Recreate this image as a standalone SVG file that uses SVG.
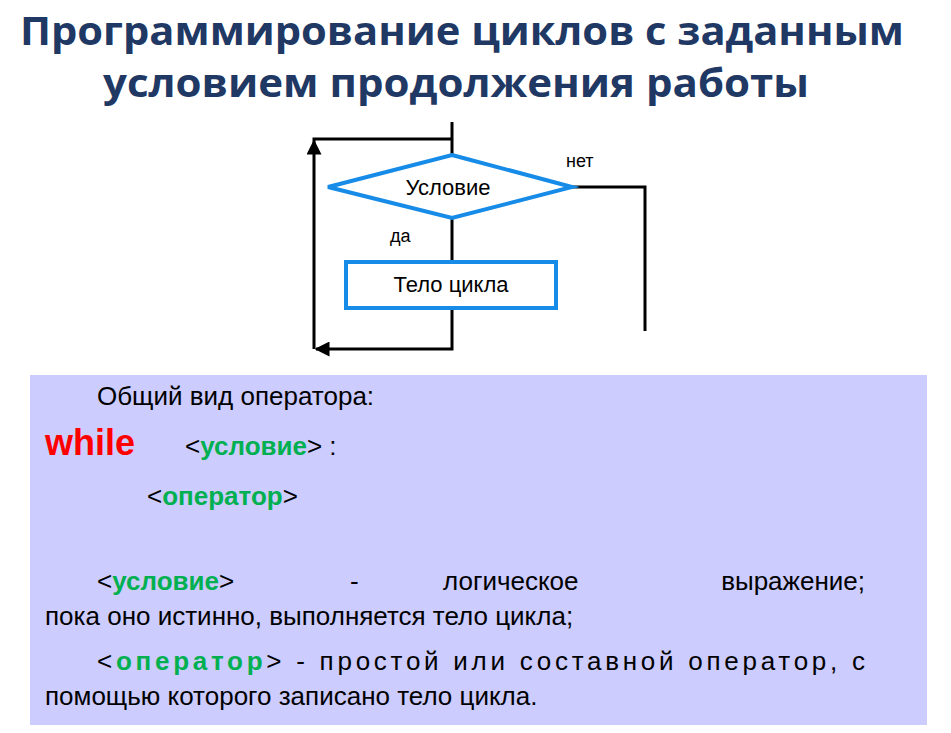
<svg xmlns="http://www.w3.org/2000/svg" width="951" height="733" viewBox="0 0 951 733">
<style>
.t{font-family:"Open Sans","Liberation Sans",sans-serif;font-weight:bold;font-size:40px;fill:#1F3864}
.s{font-family:"Liberation Sans",Arial,sans-serif;font-size:26px;fill:#000}
.n{font-family:"Liberation Sans",Arial,sans-serif;font-size:22px;fill:#000}
.l{font-family:"Liberation Sans",Arial,sans-serif;font-size:18px;fill:#000}
.g{fill:#00B050;font-weight:bold}
.c{fill:none;stroke:#000;stroke-width:3}
.b{fill:#fff;stroke:#168CE8;stroke-width:4}
</style>
<defs><marker id="a" viewBox="0 0 10 10" refX="9" refY="5" markerWidth="5" markerHeight="5" orient="auto"><path d="M0,0L10,5L0,10z" fill="#000"/></marker></defs>
<rect width="951" height="733" fill="#fff"/>
<text class="t" x="462" y="45" text-anchor="middle" textLength="884" lengthAdjust="spacingAndGlyphs">Программирование циклов с заданным</text>
<text class="t" x="456" y="97" text-anchor="middle" textLength="706" lengthAdjust="spacingAndGlyphs">условием продолжения работы</text>
<g id="connectors">
<path class="c" d="M452,122V155"/>
<path class="c" d="M452,218V262"/>
<path class="c" d="M452,309V349H316" marker-end="url(#a)"/>
<path class="c" d="M452,139H314V349M314,349V141" marker-end="url(#a)"/>
<path class="c" d="M572,187H645V331"/>
</g>
<g id="cond"><path class="b" d="M452,155L572,187L452,218L328,187Z"/><text class="n" x="448" y="195" text-anchor="middle">Условие</text></g>
<g id="body"><rect class="b" x="346" y="262" width="210" height="46"/><text class="n" x="451" y="292" text-anchor="middle">Тело цикла</text></g>
<text class="l" x="566" y="167">нет</text>
<text class="l" x="390" y="242">да</text>
<rect x="30" y="375" width="897" height="350" fill="#CCCCFF"/>
<text class="s" x="97" y="405">Общий вид оператора:</text>
<text x="45" y="455" font-family="Liberation Sans,Arial,sans-serif" font-weight="bold" font-size="36" fill="#FF0000">while</text>
<text class="s" x="185" y="455">&lt;<tspan class="g">условие</tspan>&gt; :</text>
<text class="s" x="147" y="505">&lt;<tspan class="g">оператор</tspan>&gt;</text>
<text class="s" x="97" y="590">&lt;<tspan class="g">условие</tspan>&gt;</text>
<text class="s" x="350" y="590">-</text>
<text class="s" x="443" y="590">логическое</text>
<text class="s" x="865" y="590" text-anchor="end">выражение;</text>
<text class="s" x="45" y="625">пока оно истинно, выполняется тело цикла;</text>
<text class="s" x="97" y="670" textLength="768" lengthAdjust="spacing">&lt;<tspan class="g">оператор</tspan>&gt; - простой или составной оператор, с</text>
<text class="s" x="45" y="705">помощью которого записано тело цикла.</text>
</svg>
